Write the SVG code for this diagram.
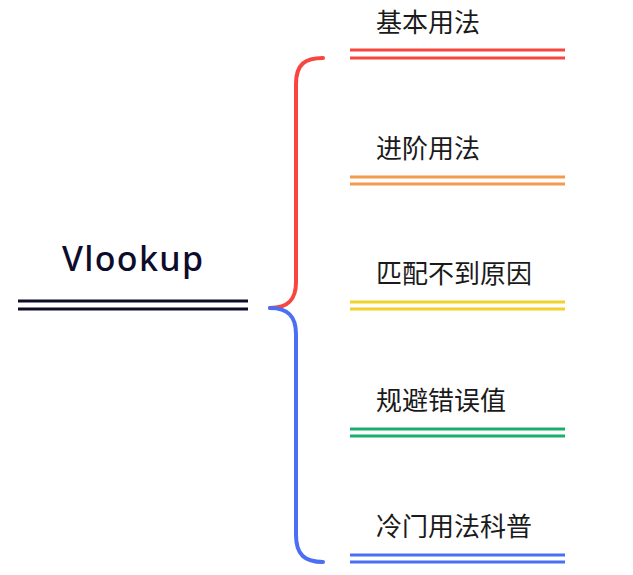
<svg xmlns="http://www.w3.org/2000/svg" width="633" height="575" viewBox="0 0 633 575">
<style>
.t{font-family:"Noto Sans CJK SC","Noto Sans",sans-serif;font-size:26px;fill:#1a1a1a}
.l{stroke-width:3;fill:none}
.b{stroke-width:4;fill:none;stroke-linecap:round}
</style>
<rect width="633" height="575" fill="#fff"/>
<g id="root">
<text x="62" y="271" textLength="142" style="font-family:'Noto Sans',sans-serif;font-size:34px;font-weight:500;fill:#0d0d2b;letter-spacing:1px">Vlookup</text>
<path class="l" stroke="#0d0d2b" stroke-width="4" d="M18 301H248M18 309H248"/>
</g>
<g id="connectors">
<path class="b" stroke="#f7453f" d="M323 58C305 58 296 64 296 84V282C296 300 288 308 270 308"/>
<path class="b" stroke="#4a6ef5" d="M270 308C288 308 296 316 296 334V535C296 555 305 562 323 562"/>
</g>
<g id="n1"><text class="t" x="376" y="32">基本用法</text><path class="l" stroke="#f7453f" d="M350 50H565M350 58H565"/></g>
<g id="n2"><text class="t" x="376" y="158">进阶用法</text><path class="l" stroke="#f39a4c" d="M350 177H565M350 184H565"/></g>
<g id="n3"><text class="t" x="376" y="283">匹配不到原因</text><path class="l" stroke="#f0d22a" d="M350 302H565M350 309H565"/></g>
<g id="n4"><text class="t" x="376" y="410">规避错误值</text><path class="l" stroke="#1aaf6e" d="M350 429H565M350 436H565"/></g>
<g id="n5"><text class="t" x="376" y="536">冷门用法科普</text><path class="l" stroke="#4a6ef5" d="M350 555H565M350 562H565"/></g>
</svg>
